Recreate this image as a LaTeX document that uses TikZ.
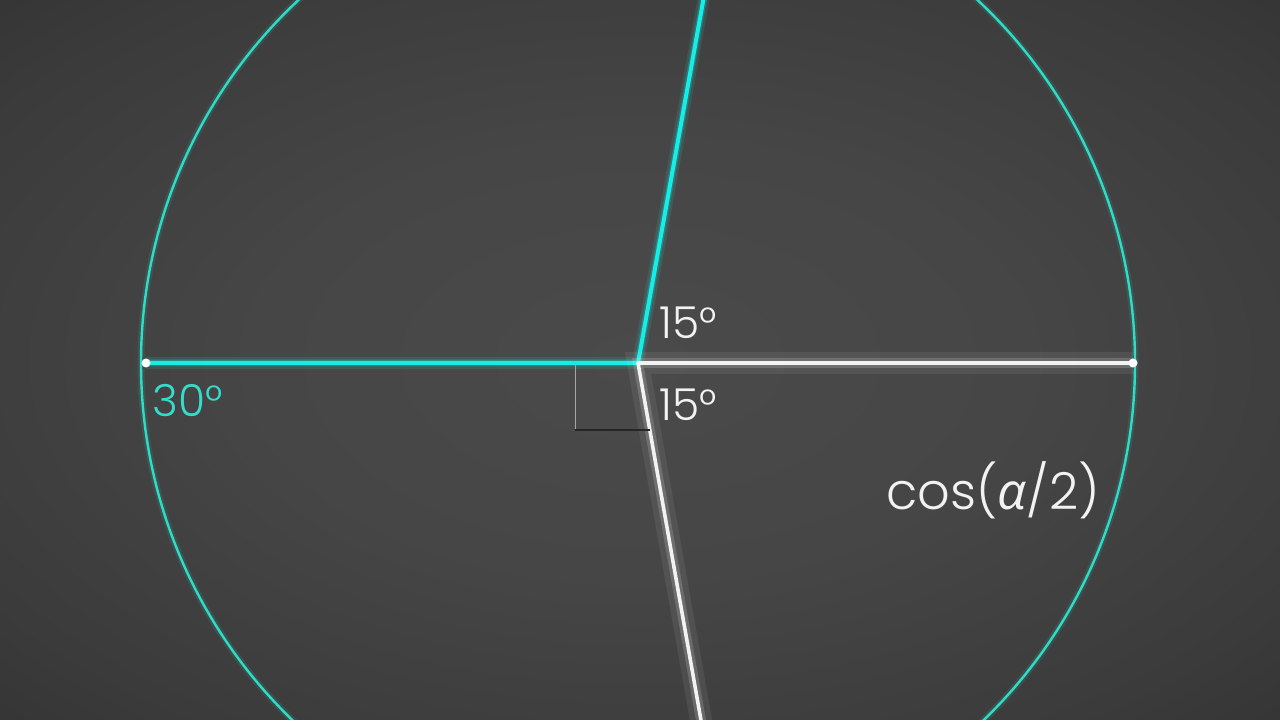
\documentclass[tikz,border=0pt]{standalone}
\usepackage{fontspec}
\setmainfont{Poppins}[UprightFont=* Light]
\newfontfamily\greekfont{Open Sans}
\usetikzlibrary{calc}

\definecolor{bgmid}{HTML}{4A4A4A}
\definecolor{bgsoft}{HTML}{464646}
\definecolor{bgmidway}{HTML}{3B3B3B}
\definecolor{bgedge}{HTML}{2C2C2C}
\definecolor{bgouter}{HTML}{242424}
\definecolor{bgdark}{HTML}{1F1F1F}
\definecolor{rim}{HTML}{2FDCC6}
\definecolor{ray}{HTML}{14EEE6}
\definecolor{lit}{HTML}{F2F2F2}
\definecolor{tag}{HTML}{35DCCB}

\pgfdeclareradialshading{backglow}{\pgfpoint{0bp}{0bp}}{color(0bp)=(bgmid); color(15bp)=(bgsoft); color(30bp)=(bgmidway); color(45bp)=(bgedge); color(60bp)=(bgouter); color(72bp)=(bgdark)}

\tikzset{
	rimline/.style={draw=rim, line width=2.4, preaction={draw=rim, line width=7, opacity=0.12}},
	rayline/.style={draw=ray, line width=4, line join=round, line cap=round, preaction={draw=ray, line width=12, opacity=0.12}, preaction={draw=ray, line width=7, opacity=0.22}},
	litline/.style={draw=lit, line width=3.6, line join=round, line cap=round, preaction={draw=white, line width=22, opacity=0.07}, preaction={draw=white, line width=10, opacity=0.16}},
	tipdot/.style={circle, fill=white, inner sep=0, minimum size=9},
	anglelabel/.style={inner sep=0, font=\fontsize{44}{48}\selectfont},
}

\begin{document}
\begin{tikzpicture}[x=1pt, y=1pt]
			%%%%% START %%%%%
			
			\shade[shading=backglow] (0, 0) rectangle (1280, 720);
			\useasboundingbox (0, 0) rectangle (1280, 720);
			\clip (0, 0) rectangle (1280, 720);
			
			\coordinate (O) at (638, 357);
			\coordinate (L) at (146, 357);
			\coordinate (R) at (1133, 357);
			\coordinate (T) at ($(O)+(79.8:497)$);
			\coordinate (B) at ($(O)+(-80:497)$);
			\coordinate (Ka) at (575, 357);
			\coordinate (Kb) at (575, 290);
			\coordinate (Kc) at (650, 290);
			
			\draw[rimline] (O) circle (497);
			
			\draw[rayline] (L) -- (O) -- (T);
			\draw[litline] (R) -- (O) -- (B);
			
			\draw[gray!70, line width=1] (Ka) -- (Kb);
			\draw[black!85, line width=1.3] (Kb) -- (Kc);
			
			\node[tipdot] (dotL) at (L) {};
			\node[tipdot] (dotR) at (R) {};
			
			\node[anglelabel, text=lit] (upper) at (688, 397) {15°};
			\node[anglelabel, text=lit] (lower) at (688, 315) {15°};
			\node[anglelabel, text=tag] (rimangle) at (188, 319) {30°};
			\node[anglelabel, text=lit, font=\fontsize{51}{56}\selectfont] (cosine) at (993, 230) {cos({\greekfont\itshape α}/2)};
			
			%%%%% END %%%%%
\end{tikzpicture}
\end{document}
